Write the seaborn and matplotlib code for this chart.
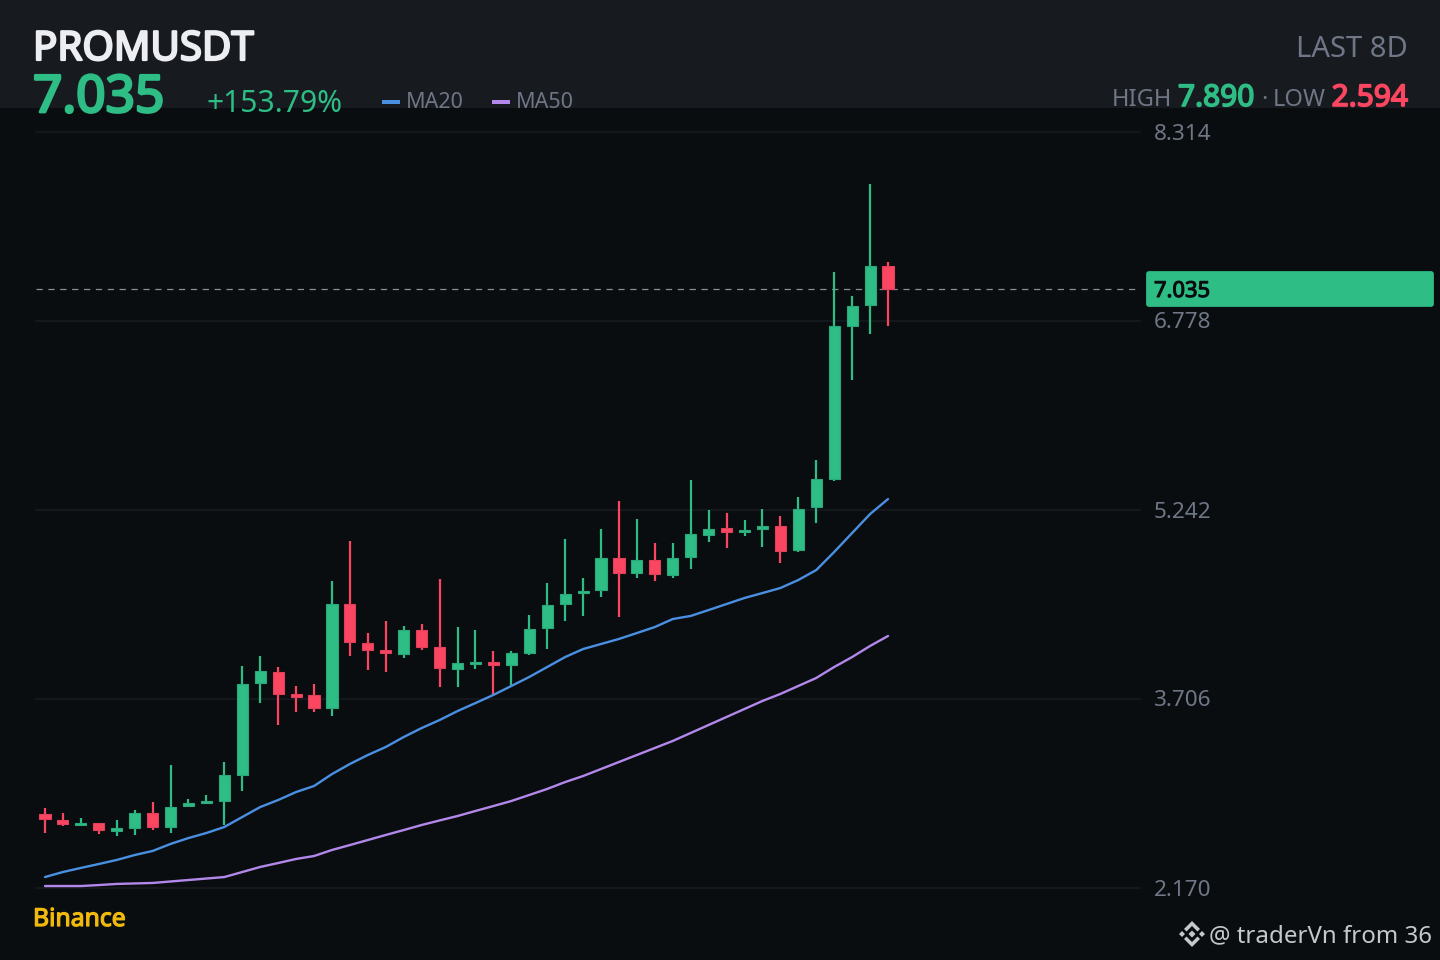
import matplotlib
matplotlib.use("Agg")
import matplotlib.pyplot as plt
from matplotlib.patches import FancyBboxPatch, Polygon, Rectangle
import matplotlib.patheffects as pe
import numpy as np
import pandas as pd
import seaborn as sns

W, H = 1440, 960

opens = [2.771, 2.723, 2.684, 2.698, 2.633, 2.658, 2.780, 2.666, 2.836, 2.861, 2.877, 3.088,
         3.836, 3.925, 3.747, 3.739, 3.633, 4.478, 4.161, 4.104, 4.072, 4.267, 4.129, 3.950,
         3.990, 4.007, 3.982, 4.080, 4.283, 4.478, 4.567, 4.592, 4.852, 4.730, 4.836, 4.714,
         4.860, 5.039, 5.096, 5.063, 5.088, 5.112, 4.917, 5.266, 5.494, 6.737, 6.908, 7.225]
closes = [2.731, 2.690, 2.701, 2.641, 2.658, 2.780, 2.666, 2.828, 2.861, 2.877, 3.088, 3.828,
          3.934, 3.747, 3.722, 3.633, 4.478, 4.169, 4.104, 4.080, 4.267, 4.129, 3.958, 3.999,
          4.007, 3.982, 4.080, 4.275, 4.470, 4.559, 4.584, 4.852, 4.730, 4.836, 4.722, 4.852,
          5.047, 5.088, 5.063, 5.079, 5.112, 4.909, 5.250, 5.494, 6.737, 6.900, 7.225, 7.035]
highs = [2.820, 2.780, 2.739, 2.700, 2.723, 2.804, 2.869, 3.170, 2.893, 2.926, 3.194, 3.974,
         4.055, 3.966, 3.812, 3.828, 4.665, 4.990, 4.242, 4.340, 4.299, 4.316, 4.681, 4.291,
         4.267, 4.096, 4.096, 4.389, 4.649, 5.006, 4.689, 5.088, 5.315, 5.169, 4.974, 4.974,
         5.486, 5.242, 5.218, 5.161, 5.250, 5.193, 5.348, 5.648, 7.176, 6.981, 7.890, 7.257]
lows = [2.617, 2.674, 2.680, 2.609, 2.594, 2.601, 2.641, 2.617, 2.834, 2.853, 2.682, 2.958,
        3.673, 3.495, 3.600, 3.600, 3.568, 4.055, 3.942, 3.925, 4.039, 4.104, 3.804, 3.804,
        3.950, 3.730, 3.820, 4.064, 4.112, 4.340, 4.381, 4.535, 4.372, 4.689, 4.665, 4.689,
        4.763, 4.982, 4.933, 5.031, 4.941, 4.811, 4.901, 5.136, 5.478, 6.299, 6.672, 6.737]
ma20 = [2.259, 2.300, 2.333, 2.365, 2.398, 2.438, 2.471, 2.528, 2.576, 2.617, 2.666, 2.747,
        2.828, 2.885, 2.950, 2.999, 3.096, 3.178, 3.251, 3.316, 3.397, 3.470, 3.535, 3.608,
        3.673, 3.739, 3.812, 3.885, 3.966, 4.047, 4.112, 4.153, 4.194, 4.242, 4.291, 4.356,
        4.381, 4.429, 4.478, 4.527, 4.567, 4.608, 4.673, 4.754, 4.901, 5.055, 5.209, 5.331]
ma50 = [2.186, 2.186, 2.186, 2.194, 2.203, 2.207, 2.211, 2.223, 2.235, 2.247, 2.259, 2.300,
        2.341, 2.373, 2.406, 2.430, 2.479, 2.519, 2.560, 2.601, 2.641, 2.682, 2.719, 2.755,
        2.796, 2.836, 2.877, 2.926, 2.975, 3.031, 3.080, 3.137, 3.194, 3.251, 3.308, 3.365,
        3.430, 3.495, 3.560, 3.625, 3.690, 3.747, 3.812, 3.877, 3.966, 4.047, 4.137, 4.218]
ticks = [2.170, 3.706, 5.242, 6.778, 8.314]
last_price = 7.035

GREEN = "#2ebd85"
RED = "#fb4661"
BLUE = "#4a90e2"
PURPLE = "#b388eb"
GREY = "#6f7685"
BG = "#0a0d10"
HEADER = "#171a1f"

sns.set_theme(style="dark")
plt.rcParams["font.family"] = ["Noto Sans", "DejaVu Sans"]


def fx(x):
    return x / W


def fy(y):
    return 1 - y / H


def bold_text(x, y, s, stroke=1.0, **kw):
    # fontweight bold does not take here, so thicken the regular cut with a stroke
    t = fig.text(x, y, s, va="baseline", **kw)
    t.set_path_effects([pe.withStroke(linewidth=stroke, foreground=kw["color"])])
    return t


fig = plt.figure(figsize=(W / 100, H / 100), dpi=100, facecolor=BG)
ax = fig.add_axes([0, 0, 1, 1])
ax.set_facecolor("none")
ax.set_axis_off()

# pixel anchors of the first/last candle and of the outer ticks
x_step = (888 - 45) / 47
ax.set_xlim(-45 / x_step, (W - 45) / x_step)
px_per_unit = (888 - 132) / (ticks[-1] - ticks[0])
ax.set_ylim(ticks[0] - (H - 888) / px_per_unit, ticks[0] + 888 / px_per_unit)

fig.add_artist(Rectangle((0, fy(108)), 1, 108 / H, transform=fig.transFigure,
                         facecolor=HEADER, edgecolor="none", zorder=-5))

trans = ax.get_yaxis_transform()
for t in ticks:
    ax.plot([fx(36), fx(1140)], [t, t], transform=trans, color="#15191d", lw=1.4, zorder=1)
    fig.text(fx(1154), ax.transData.transform((0, t))[1] / H - 2 / H, f"{t:.3f}",
             color=GREY, fontsize=16.2, va="center", ha="left")

ax.plot([fx(36), fx(1135)], [last_price, last_price], transform=trans, color="#8a8f96",
        lw=0.9, dashes=(5, 4.5), zorder=1.5)

df = pd.DataFrame({"i": np.arange(len(opens)), "open": opens, "close": closes,
                   "high": highs, "low": lows, "ma20": ma20, "ma50": ma50})
colors = [GREEN if c >= o else RED for o, c in zip(df["open"], df["close"])]
edges = ["#2aa87a" if c >= o else "#e0405a" for o, c in zip(df["open"], df["close"])]

ax.vlines(df["i"], df["low"], df["high"], colors=colors, lw=1.6, zorder=2)
ax.bar(df["i"], (df["close"] - df["open"]).abs(), bottom=df[["open", "close"]].min(axis=1),
       width=0.62, color=colors, edgecolor=edges, linewidth=0.8, zorder=3)

sns.lineplot(data=df, x="i", y="ma20", ax=ax, color=BLUE, lw=1.7, zorder=4, legend=False)
sns.lineplot(data=df, x="i", y="ma50", ax=ax, color=PURPLE, lw=1.7, zorder=4, legend=False)
ax.set_axis_off()

# current price tag
fig.add_artist(FancyBboxPatch((fx(1149), fy(304)), fx(282), 30 / H, transform=fig.transFigure,
                              boxstyle="round,pad=0.002,rounding_size=0.002",
                              mutation_aspect=1.5, facecolor=GREEN, edgecolor="none"))
bold_text(fx(1154), fy(297), "7.035", stroke=0.8, color="#0a0d10", fontsize=15.8)

# header
bold_text(fx(33), fy(60), "PROMUSDT", stroke=1.6, color="#eceef2", fontsize=29)
bold_text(fx(33), fy(112), "7.035", stroke=2.0, color=GREEN, fontsize=37)
fig.text(fx(206), fy(112), "+153.79%", color=GREEN, fontsize=21.6, va="baseline")
for x0, name, col in [(382, "MA20", BLUE), (492, "MA50", PURPLE)]:
    fig.add_artist(Rectangle((fx(x0), fy(103.5)), 18 / W, 3.5 / H, transform=fig.transFigure,
                             facecolor=col, edgecolor="none"))
    fig.text(fx(x0 + 24), fy(108), name, color=GREY, fontsize=15.5, va="baseline")

fig.text(fx(1408), fy(57), "LAST 8D", color=GREY, fontsize=21, ha="right", va="baseline")
fig.text(fx(1112), fy(106), "HIGH", color=GREY, fontsize=17, va="baseline")
bold_text(fx(1178), fy(106), "7.890", stroke=1.2, color=GREEN, fontsize=21.5)
fig.text(fx(1261), fy(106), "·", color=GREY, fontsize=17, va="baseline")
fig.text(fx(1273), fy(106), "LOW", color=GREY, fontsize=17, va="baseline")
bold_text(fx(1408), fy(106), "2.594", stroke=1.2, color=RED, fontsize=21.5, ha="right")

bold_text(fx(33), fy(926), "Binance", stroke=0.9, color="#f0b90b", fontsize=17.8)
fig.text(fx(1432), fy(942), "@ traderVn from 36", color="#c4c7cb", fontsize=17.3, ha="right", va="baseline")

# binance mark, centre (1192, 934)
logo = [
    [(0, -3.5), (3.5, 0), (0, 3.5), (-3.5, 0)],
    [(-13, 0), (-10, -3), (-7, 0), (-10, 3)],
    [(13, 0), (10, -3), (7, 0), (10, 3)],
    [(0, -13), (8, -5), (5.5, -2.5), (0, -8), (-5.5, -2.5), (-8, -5)],
    [(0, 13), (8, 5), (5.5, 2.5), (0, 8), (-5.5, 2.5), (-8, 5)],
]
for shape in logo:
    pts = [(fx(1192 + a), fy(934 + b)) for a, b in shape]
    fig.add_artist(Polygon(pts, closed=True, transform=fig.transFigure, facecolor="#c4c7cb", edgecolor="none"))

fig.savefig("out.png", dpi=100, facecolor=BG)
